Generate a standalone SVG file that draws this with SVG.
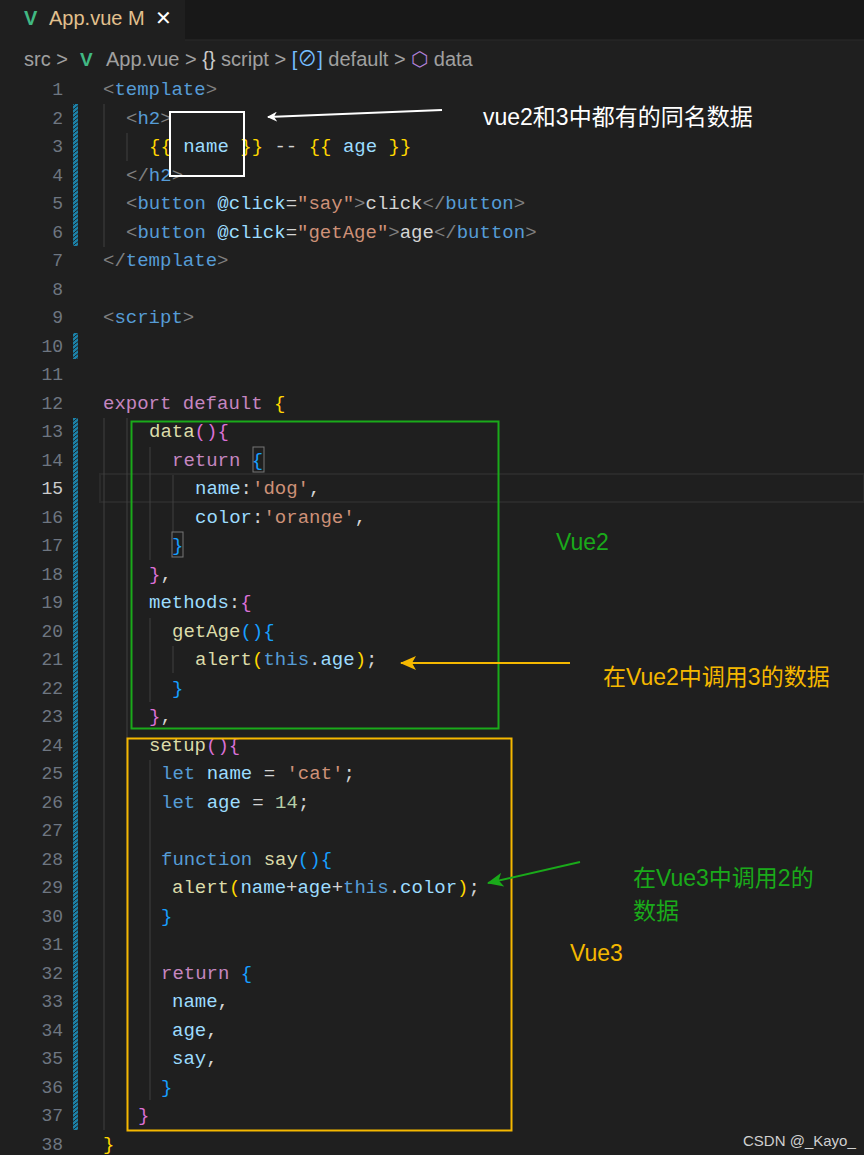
<svg xmlns="http://www.w3.org/2000/svg" width="864" height="1155" viewBox="0 0 864 1155">
<defs>
<style>
.c{font-family:"Liberation Mono","DejaVu Sans Mono",monospace;font-size:19px;white-space:pre}
.n{font-family:"Liberation Mono",monospace;font-size:18px;fill:#6e7681;text-anchor:end}
.ui{font-family:"Liberation Sans","Noto Sans CJK SC",sans-serif;font-size:20px;fill:#a0a0a0}
.an{font-family:"Liberation Sans","Noto Sans CJK SC",sans-serif;font-size:23px}
.g{fill:#808080}.t{fill:#569cd6}.y{fill:#ffd700}.k{fill:#c586c0}.v{fill:#9cdcfe}.f{fill:#dcdcaa}.s{fill:#ce9178}.w{fill:#d4d4d4}.p{fill:#da70d6}.b{fill:#179fff}.num{fill:#b5cea8}
.guide{stroke:#404040;stroke-width:1}
</style>
<pattern id="hatch" width="5" height="4" patternUnits="userSpaceOnUse"><rect width="5" height="4" fill="#1b81a8"/><line x1="0" y1="4" x2="5" y2="0" stroke="#1f1f1f" stroke-width="1"/></pattern>
<marker id="aw" markerWidth="10" markerHeight="10" refX="9" refY="5" orient="auto" markerUnits="userSpaceOnUse" viewBox="0 0 10 10"><path d="M10,5 L0,0 L3,5 L0,10z" fill="#ffffff"/></marker>
<marker id="ao" markerWidth="16" markerHeight="14" refX="15" refY="7" orient="auto" markerUnits="userSpaceOnUse" viewBox="0 0 16 14"><path d="M16,7 L0,0 L4,7 L0,14z" fill="#f5b800"/></marker>
<marker id="ag" markerWidth="16" markerHeight="14" refX="15" refY="7" orient="auto" markerUnits="userSpaceOnUse" viewBox="0 0 16 14"><path d="M16,7 L0,0 L4,7 L0,14z" fill="#1aaa1a"/></marker>
</defs>
<rect width="864" height="1155" fill="#1f1f1f"/>
<rect x="185" y="0" width="679" height="40" fill="#181818"/>
<line x1="185" y1="40" x2="864" y2="40" stroke="#2b2b2b"/>
<g id="tab">
<text x="24" y="25" font-family="Liberation Sans,sans-serif" font-size="20" font-weight="bold" fill="#41b883">V</text>
<text x="49" y="25" class="ui" style="fill:#e2c08d">App.vue</text>
<text x="128" y="25" class="ui" style="fill:#e2c08d">M</text>
<text x="155" y="25" class="ui" style="fill:#ffffff">✕</text>
</g>
<g id="breadcrumb">
<text x="24" y="66" class="ui">src &gt;</text>
<text x="80" y="66" font-family="Liberation Sans,sans-serif" font-size="19" font-weight="bold" fill="#41b883">V</text>
<text x="106" y="66" class="ui">App.vue &gt; <tspan style="fill:#cccccc">{}</tspan> script &gt; <tspan style="fill:#75beff">[⊘]</tspan> default &gt; <tspan style="fill:#b180d7">⬡</tspan> data</text>
</g>
<rect x="100" y="474" width="764" height="28" fill="none" stroke="#2a2a2a" stroke-width="2"/>
<g id="gutter">
<rect x="73" y="104" width="5" height="142" fill="url(#hatch)"/>
<rect x="73" y="333" width="5" height="26" fill="url(#hatch)"/>
<rect x="73" y="418" width="5" height="712" fill="url(#hatch)"/>
</g>
<g id="guides">
<line class="guide" x1="104" y1="104" x2="104" y2="247"/>
<line class="guide" x1="127" y1="133" x2="127" y2="161"/>
<line class="guide" x1="104" y1="418" x2="104" y2="1130"/>
<line class="guide" x1="127" y1="418" x2="127" y2="1100"/>
<line class="guide" x1="150" y1="447" x2="150" y2="560"/>
<line class="guide" x1="173" y1="475" x2="173" y2="532"/>
<line class="guide" x1="150" y1="618" x2="150" y2="702"/>
<line class="guide" x1="173" y1="646" x2="173" y2="673"/>
<line class="guide" x1="150" y1="760" x2="150" y2="1100"/>
</g>
<g id="linenums">
<text class="n" x="63" y="95">1</text><text class="n" x="63" y="124">2</text><text class="n" x="63" y="152">3</text><text class="n" x="63" y="181">4</text><text class="n" x="63" y="209">5</text><text class="n" x="63" y="238">6</text><text class="n" x="63" y="266">7</text><text class="n" x="63" y="295">8</text><text class="n" x="63" y="323">9</text><text class="n" x="63" y="352">10</text><text class="n" x="63" y="380">11</text><text class="n" x="63" y="409">12</text><text class="n" x="63" y="437">13</text><text class="n" x="63" y="466">14</text><text class="n" x="63" y="494" style="fill:#cccccc">15</text><text class="n" x="63" y="523">16</text><text class="n" x="63" y="551">17</text><text class="n" x="63" y="580">18</text><text class="n" x="63" y="608">19</text><text class="n" x="63" y="637">20</text><text class="n" x="63" y="665">21</text><text class="n" x="63" y="694">22</text><text class="n" x="63" y="722">23</text><text class="n" x="63" y="751">24</text><text class="n" x="63" y="779">25</text><text class="n" x="63" y="808">26</text><text class="n" x="63" y="836">27</text><text class="n" x="63" y="865">28</text><text class="n" x="63" y="893">29</text><text class="n" x="63" y="922">30</text><text class="n" x="63" y="950">31</text><text class="n" x="63" y="979">32</text><text class="n" x="63" y="1007">33</text><text class="n" x="63" y="1036">34</text><text class="n" x="63" y="1064">35</text><text class="n" x="63" y="1093">36</text><text class="n" x="63" y="1121">37</text><text class="n" x="63" y="1150">38</text>
</g>
<g id="code">
<text class="c" x="103" y="95"><tspan class="g">&lt;</tspan><tspan class="t">template</tspan><tspan class="g">&gt;</tspan></text>
<text class="c" x="126" y="124"><tspan class="g">&lt;</tspan><tspan class="t">h2</tspan><tspan class="g">&gt;</tspan></text>
<text class="c" x="149" y="152"><tspan class="y">{{</tspan> <tspan class="v">name</tspan> <tspan class="y">}}</tspan><tspan class="w"> -- </tspan><tspan class="y">{{</tspan> <tspan class="v">age</tspan> <tspan class="y">}}</tspan></text>
<text class="c" x="126" y="181"><tspan class="g">&lt;/</tspan><tspan class="t">h2</tspan><tspan class="g">&gt;</tspan></text>
<text class="c" x="126" y="209"><tspan class="g">&lt;</tspan><tspan class="t">button</tspan> <tspan class="v">@click</tspan><tspan class="w">=</tspan><tspan class="s">"say"</tspan><tspan class="g">&gt;</tspan><tspan class="w">click</tspan><tspan class="g">&lt;/</tspan><tspan class="t">button</tspan><tspan class="g">&gt;</tspan></text>
<text class="c" x="126" y="238"><tspan class="g">&lt;</tspan><tspan class="t">button</tspan> <tspan class="v">@click</tspan><tspan class="w">=</tspan><tspan class="s">"getAge"</tspan><tspan class="g">&gt;</tspan><tspan class="w">age</tspan><tspan class="g">&lt;/</tspan><tspan class="t">button</tspan><tspan class="g">&gt;</tspan></text>
<text class="c" x="103" y="266"><tspan class="g">&lt;/</tspan><tspan class="t">template</tspan><tspan class="g">&gt;</tspan></text>
<text class="c" x="103" y="323"><tspan class="g">&lt;</tspan><tspan class="t">script</tspan><tspan class="g">&gt;</tspan></text>
<text class="c" x="103" y="409"><tspan class="k">export default</tspan> <tspan class="y">{</tspan></text>
<text class="c" x="149" y="437"><tspan class="f">data</tspan><tspan class="p">(){</tspan></text>
<text class="c" x="172" y="466"><tspan class="k">return</tspan> <tspan class="b">{</tspan></text>
<rect x="253" y="447" width="11" height="25" fill="none" stroke="#777" stroke-width="1"/>
<text class="c" x="195" y="494"><tspan class="v">name</tspan><tspan class="w">:</tspan><tspan class="s">'dog'</tspan><tspan class="w">,</tspan></text>
<text class="c" x="195" y="523"><tspan class="v">color</tspan><tspan class="w">:</tspan><tspan class="s">'orange'</tspan><tspan class="w">,</tspan></text>
<text class="c" x="172" y="551"><tspan class="b">}</tspan></text>
<rect x="172" y="532" width="11" height="25" fill="none" stroke="#777" stroke-width="1"/>
<text class="c" x="149" y="580"><tspan class="p">}</tspan><tspan class="w">,</tspan></text>
<text class="c" x="149" y="608"><tspan class="v">methods</tspan><tspan class="w">:</tspan><tspan class="p">{</tspan></text>
<text class="c" x="172" y="637"><tspan class="f">getAge</tspan><tspan class="b">(){</tspan></text>
<text class="c" x="195" y="665"><tspan class="f">alert</tspan><tspan class="y">(</tspan><tspan class="t">this</tspan><tspan class="w">.</tspan><tspan class="v">age</tspan><tspan class="y">)</tspan><tspan class="w">;</tspan></text>
<text class="c" x="172" y="694"><tspan class="b">}</tspan></text>
<text class="c" x="149" y="722"><tspan class="p">}</tspan><tspan class="w">,</tspan></text>
<text class="c" x="149" y="751"><tspan class="f">setup</tspan><tspan class="p">(){</tspan></text>
<text class="c" x="161" y="779"><tspan class="t">let</tspan> <tspan class="v">name</tspan><tspan class="w"> = </tspan><tspan class="s">'cat'</tspan><tspan class="w">;</tspan></text>
<text class="c" x="161" y="808"><tspan class="t">let</tspan> <tspan class="v">age</tspan><tspan class="w"> = </tspan><tspan class="num">14</tspan><tspan class="w">;</tspan></text>
<text class="c" x="161" y="865"><tspan class="t">function</tspan> <tspan class="f">say</tspan><tspan class="b">(){</tspan></text>
<text class="c" x="172" y="893"><tspan class="f">alert</tspan><tspan class="y">(</tspan><tspan class="v">name</tspan><tspan class="w">+</tspan><tspan class="v">age</tspan><tspan class="w">+</tspan><tspan class="t">this</tspan><tspan class="w">.</tspan><tspan class="v">color</tspan><tspan class="y">)</tspan><tspan class="w">;</tspan></text>
<text class="c" x="161" y="922"><tspan class="b">}</tspan></text>
<text class="c" x="161" y="979"><tspan class="k">return</tspan> <tspan class="b">{</tspan></text>
<text class="c" x="172" y="1007"><tspan class="v">name</tspan><tspan class="w">,</tspan></text>
<text class="c" x="172" y="1036"><tspan class="v">age</tspan><tspan class="w">,</tspan></text>
<text class="c" x="172" y="1064"><tspan class="v">say</tspan><tspan class="w">,</tspan></text>
<text class="c" x="161" y="1093"><tspan class="b">}</tspan></text>
<text class="c" x="138" y="1121"><tspan class="p">}</tspan></text>
<text class="c" x="103" y="1150"><tspan class="y">}</tspan></text>
</g>
<g id="name-box"><rect x="170" y="112" width="74" height="64" fill="none" stroke="#ffffff" stroke-width="2"/></g>
<g id="vue2-box"><rect x="131.5" y="421.5" width="367" height="307" fill="none" stroke="#1aaa1a" stroke-width="2"/></g>
<g id="vue3-box"><rect x="127.5" y="738.5" width="384" height="392" fill="none" stroke="#f5b800" stroke-width="2"/></g>
<g id="connectors">
<line x1="442" y1="110" x2="268" y2="117" stroke="#ffffff" stroke-width="2" marker-end="url(#aw)"/>
<line x1="570" y1="663" x2="401" y2="663" stroke="#f5b800" stroke-width="2" marker-end="url(#ao)"/>
<line x1="580" y1="862" x2="488" y2="883" stroke="#1aaa1a" stroke-width="2" marker-end="url(#ag)"/>
</g>
<g id="labels">
<text class="an" x="483" y="125" fill="#ffffff">vue2和3中都有的同名数据</text>
<text class="an" x="556" y="550" fill="#1aaa1a">Vue2</text>
<text class="an" x="603" y="685" fill="#f5b800">在Vue2中调用3的数据</text>
<text class="an" x="633" y="886" fill="#1aaa1a">在Vue3中调用2的</text>
<text class="an" x="633" y="919" fill="#1aaa1a">数据</text>
<text class="an" x="570" y="961" fill="#f5b800">Vue3</text>
<text x="743" y="1146" font-family="Liberation Sans,Noto Sans,sans-serif" font-size="15" fill="#d0d0d0">CSDN @_Kayo_</text>
</g>
</svg>
